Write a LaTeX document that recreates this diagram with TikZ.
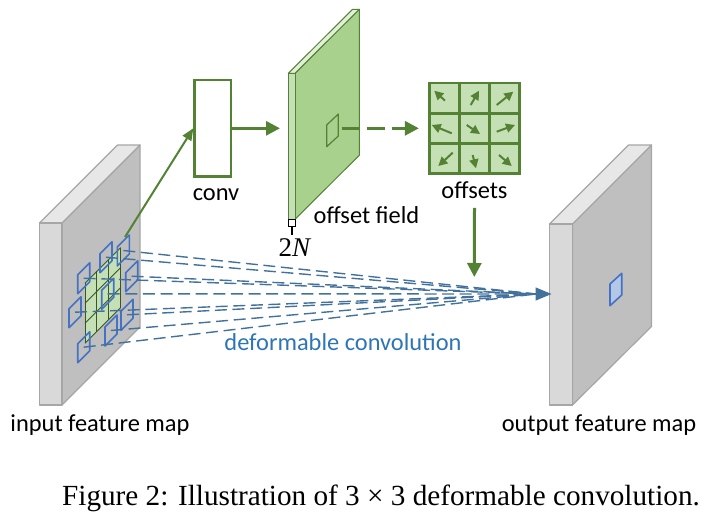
\documentclass[tikz,border=0pt]{standalone}
\usepackage{fontspec}
\setmainfont{Carlito}
\newfontfamily\capfont{Liberation Serif}
\usetikzlibrary{positioning}
\usetikzlibrary{arrows.meta}
\definecolor{mapside}{RGB}{191,191,191}
\definecolor{mapfront}{RGB}{217,217,217}
\definecolor{maptop}{RGB}{231,231,231}
\definecolor{mapedge}{RGB}{166,166,166}
\definecolor{gdark}{RGB}{84,130,53}
\definecolor{gline}{RGB}{56,87,35}
\definecolor{gmid}{RGB}{169,209,142}
\definecolor{glight}{RGB}{197,224,180}
\definecolor{gtop}{RGB}{226,240,217}
\definecolor{sqblue}{RGB}{68,114,196}
\definecolor{sqfill}{RGB}{180,199,231}
\definecolor{dblue}{RGB}{65,113,156}
\definecolor{tblue}{RGB}{46,117,182}
\tikzset{
    lbl/.style = {font=\fontsize{12.2}{14}\selectfont, inner sep=0pt, text=black},
    caplbl/.style = {font=\capfont\fontsize{14.6}{17}\selectfont, inner sep=0pt, text=black},
    mapsideface/.style = {fill=mapside, draw=mapedge, line width=0.6pt, line join=round},
    mapfrontface/.style = {fill=mapfront, draw=mapedge, line width=0.6pt, line join=round},
    maptopface/.style = {fill=maptop, draw=mapedge, line width=0.6pt, line join=round},
    fieldside/.style = {fill=gmid, draw=gdark, line width=0.5pt, line join=round},
    fieldfront/.style = {fill=glight, draw=gdark, line width=0.5pt, line join=round},
    fieldtop/.style = {fill=gtop, draw=gdark, line width=0.5pt, line join=round},
    gridfill/.style = {fill=glight},
    gridline/.style = {draw=gline, line width=0.45pt},
    samp/.style = {draw=sqblue, line width=0.8pt, line join=round},
    outcell/.style = {draw=sqblue, fill=sqfill, line width=0.8pt, line join=round},
    fieldcell/.style = {draw=gdark, line width=0.6pt, line join=round},
    convbox/.style = {rectangle, draw=gdark, line width=1.3pt, fill=white, minimum width=18.2pt, minimum height=48.3pt, inner sep=0pt},
    offcell/.style = {rectangle, draw=gdark, line width=1.2pt, fill=glight, minimum size=15pt, inner sep=0pt},
    tab/.style = {draw=black, fill=white, line width=0.5pt},
    edgeg/.style = {-{Triangle[length=7pt,width=7pt]}, line width=1.5pt, gdark},
    edgegt/.style = {-{Triangle[length=6pt,width=5pt]}, line width=1pt, gdark},
    edgegd/.style = {-{Triangle[length=7pt,width=7pt]}, line width=1.5pt, gdark, dash pattern=on 9pt off 3.5pt},
    edgeo/.style = {-{Triangle[length=4.5pt,width=4.5pt]}, line width=1pt, gdark},
    edgeb/.style = {line width=0.7pt, dblue, dash pattern=on 6pt off 2.8pt},
    edgebt/.style = {-{Triangle[length=8pt,width=6.5pt]}, line width=0.7pt, dblue}
}
\begin{document}
\begin{tikzpicture}[x=0.5pt,y=-0.5pt]
\path[use as bounding box] (0,0) rectangle (726,519);

% input feature map
\filldraw[mapsideface] (62,223) -- (140,145) -- (140,327) -- (62,405) -- cycle;
\filldraw[maptopface] (39.5,223) -- (62,223) -- (140,145) -- (117.5,145) -- cycle;
\filldraw[mapfrontface] (39.5,223) rectangle (62,405);
% regular grid
\fill[gridfill] (85,283.3) -- (120.7,247.6) -- (120.7,307.6) -- (85,343.3) -- cycle;
\foreach \k in {0,...,3} \draw[gridline] (85+11.9*\k,283.3-11.9*\k) -- ++(0,60);
\foreach \k in {0,...,3} \draw[gridline] (85,283.3+20*\k) -- ++(35.7,-35.7);
% sampling locations
\foreach \i/\x/\y in {1/123.3/250.5, 2/106/257.2, 3/83.7/278.2, 4/131.7/276.2, 5/107.7/293.8,
                      6/75/312.2, 7/127/314.8, 8/111/330.5, 9/83.7/347.2}{
  \coordinate (s\i) at (\x,\y);
  \draw[samp] (s\i) ++(-6,-3.5) -- ++(12,-12) -- ++(0,19) -- ++(-12,12) -- cycle;
}

% output feature map
\filldraw[mapsideface] (572.5,224) -- (651.5,145) -- (651.5,326.5) -- (572.5,405) -- cycle;
\filldraw[maptopface] (549.5,224) -- (572.5,224) -- (651.5,145) -- (628.5,145) -- cycle;
\filldraw[mapfrontface] (549.5,224) rectangle (572.5,405);
\filldraw[outcell] (610,284) -- (621.7,273.3) -- (621.7,295) -- (610,305.7) -- cycle;

% offset field
\filldraw[fieldside] (295,73.3) -- (359.3,9.3) -- (359.3,155.3) -- (295,219.3) -- cycle;
\filldraw[fieldtop] (288.3,73.3) -- (295,73.3) -- (359.3,9.3) -- (352.6,9.3) -- cycle;
\filldraw[fieldfront] (288.3,73.3) rectangle (295,219.3);
\draw[fieldcell] (326.7,125) -- (338.3,114) -- (338.3,136) -- (326.7,146.7) -- cycle;
\draw[tab] (288.3,219.3) rectangle (295.7,226.7);
\draw[line width=0.6pt] (292,226.7) -- (292,235);

% conv
\node[convbox] (conv) at (212.8,128.3) {};

% offsets
\node[minimum size=45pt, inner sep=0pt] (offs) at (474.3,128.3) {};
\foreach \r in {0,1,2}
  \foreach \c in {0,1,2}
    \node[offcell] (o\r\c) at (444.3+30*\c,98.3+30*\r) {};
\foreach \n/\a/\b/\c/\d in {00/0.7/2.4/-10/-7.6, 01/-3.6/6.7/4.7/-7.6, 02/-7.6/6.7/9/-6.6,
                            10/7.4/5/-12.6/-3.3, 11/-7.6/-3.3/5.7/5.7, 12/-7.6/3.4/10.7/-3.3,
                            20/8.4/-5.6/-6/7.7, 21/-1.6/-3.3/1.7/10, 22/-5.3/-3.3/7.4/7.7}
  \draw[edgeo] ([shift={(\a,\b)}]o\n.center) -- ([shift={(\c,\d)}]o\n.center);

% labels
\node[lbl, anchor=base] (inlbl) at (100,431.7) {input feature map};
\node[lbl, anchor=base] (outlbl) at (599,431.7) {output feature map};
\node[lbl, anchor=base] (convlbl) at (216,200) {conv};
\node[lbl, anchor=base west] (fieldlbl) at (313.3,223) {offset field};
\node[lbl, anchor=base] (offslbl) at (474.5,198.3) {offsets};
\node[lbl, anchor=base, text=tblue] (dconvlbl) at (343,350) {deformable convolution};
\node[caplbl, anchor=base, font=\capfont\fontsize{13.5}{16}\selectfont] (twoN) at (295,256) {2\textit{N}};
\node[caplbl, anchor=base] (caption) at (381,505) {Figure 2: Illustration of 3 × 3 deformable convolution.};

% connections
\coordinate (meet) at (536,294);
\coordinate (outtip) at (551.5,294);
\foreach \i in {1,...,9} \draw[edgeb] (s\i) -- (meet);
\draw[edgebt] (meet) -- (outtip);

\coordinate (gridtop) at (125,237);
\coordinate (fieldin) at (280,128.3);
\coordinate (fieldout) at (341.7,128.3);
\coordinate (offsdown) at (474.3,277);
\draw[edgegt] (gridtop) -- (conv.west);
\draw[edgeg] (conv.east) -- (fieldin);
\draw[edgegd] (fieldout) -- ([xshift=-5pt]offs.west);
\draw[edgeg] ([yshift=-4.5pt]offslbl.south) -- (offsdown);

\end{tikzpicture}
\end{document}
